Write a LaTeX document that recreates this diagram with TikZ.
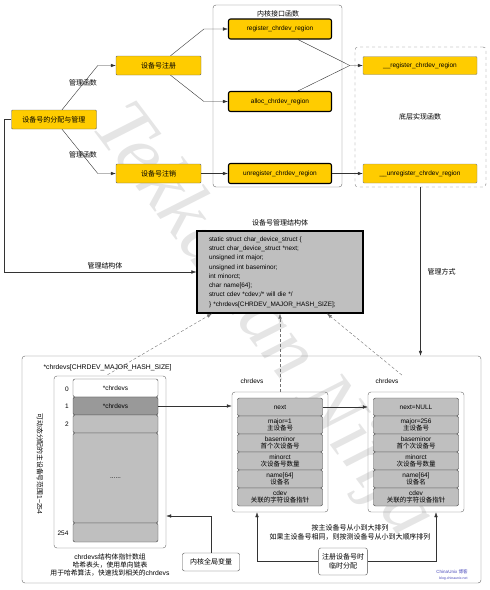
\documentclass[tikz,border=0pt]{standalone}
\usepackage{fontspec}
\setmainfont{Liberation Sans}
\newfontfamily\cjk{Noto Sans CJK SC}
\newfontfamily\wmfont{Liberation Serif}
\usetikzlibrary{arrows.meta}
\definecolor{gold}{HTML}{FFCC00}
\newcommand\zh[1]{{\cjk #1}}
\begin{document}
\begin{tikzpicture}[x=1pt, y=-1pt,
		every node/.style={font=\fontsize{6.5}{8}\selectfont},
		zh/.style={font=\cjk\fontsize{7}{9}\selectfont},
		funcbox/.style={draw=black!60, fill=gold, rounded corners=1pt, minimum width=85pt, minimum height=19pt, zh},
		apibox/.style={draw=black, line width=1.1pt, fill=gold, rounded corners=2pt, minimum width=103pt, minimum height=20pt},
		implbox/.style={draw=black!50, fill=gold, rounded corners=1pt, minimum width=114pt, minimum height=18pt},
		group/.style={draw=black!60, rounded corners=3pt},
		slot/.style={draw=black!75, fill=gray!50, rounded corners=2pt, minimum width=85pt, inner sep=0pt},
		field/.style={slot, minimum height=18pt, align=center, font=\fontsize{6.5}{7.5}\selectfont},
		note/.style={draw=black!70, fill=white, rounded corners=2pt, zh, align=center},
		conn/.style={draw=black!80, -{Latex[length=5pt,width=3.5pt]}},
		dashconn/.style={draw=black!55, densely dashed, -{Latex[length=5pt,width=3.5pt]}}]
	\useasboundingbox (0,0) rectangle (490,590);
	% watermark
	\node[text=black!10, rotate=-53, font=\wmfont\itshape\fontsize{80}{80}\selectfont] (wm) at (262,322) {Tekkaman Ninja};

	% top: functions
	\node[funcbox] (mgr) at (54,119.5) {设备号的分配与管理};
	\node[funcbox] (reg) at (158.5,65.5) {设备号注册};
	\node[funcbox] (unreg) at (158.5,173.5) {设备号注销};
	\node[group, minimum width=129pt, minimum height=182pt] (api) at (277.5,96) {};
	\node[zh] (apititle) at (278,14) {内核接口函数};
	\node[apibox] (r1) at (280,29) {register\_chrdev\_region};
	\node[apibox] (r2) at (280,101.5) {alloc\_chrdev\_region};
	\node[apibox] (r3) at (280,173.5) {unregister\_chrdev\_region};
	\node[draw=black!55, dashed, rounded corners=3pt, minimum width=131pt, minimum height=140pt] (impl) at (420.5,117) {};
	\node[zh] (impltitle) at (420,117) {底层实现函数};
	\node[implbox] (i1) at (420,65.5) {\_\_register\_chrdev\_region};
	\node[implbox, minimum height=19pt] (i2) at (420,173.5) {\_\_unregister\_chrdev\_region};

	\draw[conn] ([xshift=8pt]mgr.north) -- ([xshift=-18pt]reg.west) -- (reg.west);
	\draw[conn] ([xshift=8pt]mgr.south) -- ([xshift=-18pt]unreg.west) -- (unreg.west);
	\node[zh] at (83,83) {管理函数};
	\node[zh] at (83,155) {管理函数};
	\draw[conn] ([xshift=12pt]reg.north) -- ([xshift=-24pt]r1.west) -- (r1.west);
	\draw[conn] ([xshift=12pt]reg.south) -- ([xshift=-24pt]r2.west) -- (r2.west);
	\draw[conn] (unreg.east) -- (r3.west);
	\draw[conn] ([xshift=18pt]r1.south) -- ([xshift=-13pt]i1.west) -- (i1.west);
	\draw[draw=black!80] ([xshift=18pt]r2.north) -- ([xshift=-13pt]i1.west);
	\draw[conn] (r3.east) -- (i2.west);

	% struct
	\node[zh] (chrtitle) at (280,223) {设备号管理结构体};
	\node[draw=black, line width=1.2pt, fill=gray!50, minimum width=166pt, minimum height=82pt, text width=142pt, align=left, font=\fontsize{6.4}{9.3}\selectfont] (chr) at (280,272) {static struct char\_device\_struct \{\\struct char\_device\_struct *next;\\unsigned int major;\\unsigned int baseminor;\\int minorct;\\char name[64];\\struct cdev *cdev;/* will die */\\\} *chrdevs[CHRDEV\_MAJOR\_HASH\_SIZE];};
	\draw[conn] (mgr.west) -- ++(-7,0) |- (chr.west);
	\node[zh] at (105,266) {管理结构体};

	% bottom
	\node[group, minimum width=459pt, minimum height=227pt] (pool) at (251.5,469.5) {};
	\draw[conn] (impl.south) -- (impl.south |- pool.north);
	\node[zh, anchor=west] at (424,272) {管理方式};

	\node[group, minimum width=112pt, minimum height=172pt] (arr) at (110,462) {};
	\node[anchor=west, font=\fontsize{6.8}{8}\selectfont] (arrtitle) at (40,368) {*chrdevs[CHRDEV\_MAJOR\_HASH\_SIZE]};
	\node[slot, fill=white, minimum height=18pt] (s0) at (115.5,388) {*chrdevs};
	\node[slot, fill=gray!80, minimum height=18pt] (s1) at (115.5,406) {*chrdevs};
	\node[slot, minimum height=18pt] (s2) at (115.5,424) {};
	\node[slot, minimum height=90pt] (smid) at (115.5,478) {......};
	\node[slot, minimum height=19pt] (s254) at (115.5,532.5) {};
	\foreach \i/\y in {0/389, 1/406, 2/424}
		\node (idx\i) at (67,\y) {\i};
	\node (idx254) at (63,533) {254};
	\node[rotate=-90, font=\fontsize{6.8}{8}\selectfont] (range) at (40,464) {\zh{可动态分配的主设备号范围}1\textasciitilde254};
	\node[align=center, font=\fontsize{6.8}{8}\selectfont] (arrnote) at (110,565) {chrdevs\zh{结构体指针数组}\\\zh{哈希表头，使用单向链表}\\\zh{用于哈希算法，快速找到相关的}chrdevs};

	\foreach \n/\x/\nx/\mj in {A/280/next/1, B/416/next=NULL/256}{
		\node[group, minimum width=96pt, minimum height=120pt] (node\n) at (\x,452) {};
		\node[field] (next\n) at (\x,407) {\nx};
		\node[field] (major\n) at (\x,425) {major=\mj\\\zh{主设备号}};
		\node[field] (base\n) at (\x,443) {baseminor\\\zh{首个次设备号}};
		\node[field] (minor\n) at (\x,461) {minorct\\\zh{次设备号数量}};
		\node[field] (name\n) at (\x,479) {name[64]\\\zh{设备名}};
		\node[field] (cdev\n) at (\x,497) {cdev\\\zh{关联的字符设备指针}};
	}
	\node (labA) at (252,381) {chrdevs};
	\node (labB) at (387,381) {chrdevs};

	\draw[conn] (s1.east) -- (s1.east -| nodeA.west);
	\draw[conn] (nextA.east) -- (nextA.east -| nodeB.west);
	\draw[dashconn] (arrtitle.south) -- ([xshift=-68pt]chr.south);
	\draw[dashconn] (nodeA.north) -- (chr.south);
	\draw[dashconn] (labB.north east) -- ([xshift=47pt]chr.south);

	\node[note, minimum width=57pt, minimum height=18pt] (gvar) at (211,562) {内核全局变量};
	\draw[conn] (gvar.north) |- ([yshift=-54pt]arr.east);
	\node[zh, align=center] (order) at (350,532.5) {按主设备号从小到大排列\\如果主设备号相同，则按测设备号从小到大顺序排列};
	\node[note, minimum width=48pt, minimum height=27pt] (tmp) at (343,561.5) {注册设备号时\\临时分配};
	\draw[conn] (tmp.west) -| ([xshift=-23pt]nodeA.south);
	\draw[conn] (tmp.east) -| ([xshift=20pt]nodeB.south);

	\node[text=blue!45!gray, align=right, font=\fontsize{4.5}{5.5}\selectfont] (logo) at (452,575) {ChinaUnix \zh{博客}\\{\fontsize{3.5}{4}\selectfont blog.chinaunix.net}};
\end{tikzpicture}
\end{document}
